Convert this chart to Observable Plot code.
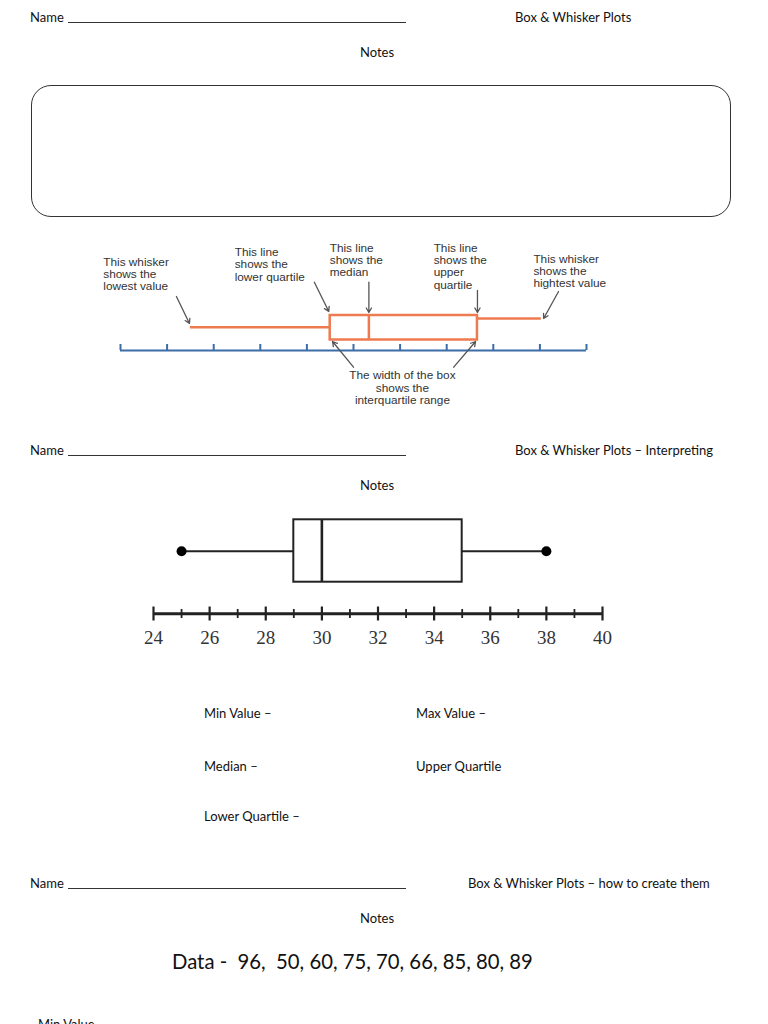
<!DOCTYPE html>
<html><head><meta charset="utf-8">
<script src="https://cdn.jsdelivr.net/npm/d3@7"></script>
<script src="https://cdn.jsdelivr.net/npm/@observablehq/plot@0.6"></script>
<style>
html,body{margin:0;padding:0;background:#fff;}
#page{position:relative;width:768px;height:1024px;overflow:hidden;font-family:Lato,"Open Sans",sans-serif;font-size:13px;color:#111;}
.t{position:absolute;white-space:pre;line-height:16px;}
.u{display:inline-block;width:338px;border-bottom:1px solid #333;height:13px;margin-left:4px;vertical-align:top;}
#notesbox{position:absolute;left:31px;top:85px;width:698px;height:130px;border:1px solid #333;border-radius:20px;}
#diagram{position:absolute;left:95px;top:236px;}
#chart{position:absolute;left:130px;top:500px;}
.data{font-size:20.3px;line-height:28px;}
</style></head><body><div id="page">
<div class="t" style="left:30px;top:9px">Name<span class="u"></span></div>
<div class="t" style="left:515px;top:9px">Box &amp; Whisker Plots</div>
<div class="t" style="left:360px;top:44px">Notes</div>
<div id="notesbox"></div>
<div id="diagram"></div>
<div class="t" style="left:30px;top:442px">Name<span class="u"></span></div>
<div class="t" style="left:515px;top:442px">Box &amp; Whisker Plots – Interpreting</div>
<div class="t" style="left:360px;top:477px">Notes</div>
<div id="chart"></div>
<div class="t" style="left:204px;top:705px">Min Value –</div>
<div class="t" style="left:416px;top:705px">Max Value –</div>
<div class="t" style="left:204px;top:758px">Median –</div>
<div class="t" style="left:416px;top:758px">Upper Quartile</div>
<div class="t" style="left:204px;top:808px">Lower Quartile –</div>
<div class="t" style="left:30px;top:875px">Name<span class="u"></span></div>
<div class="t" style="left:468px;top:875px">Box &amp; Whisker Plots – how to create them</div>
<div class="t" style="left:360px;top:910px">Notes</div>
<div class="t data" style="left:172px;top:947px">Data -  96,  50, 60, 75, 70, 66, 85, 80, 89</div>
<div class="t" style="left:38px;top:1016px">Min Value</div>
</div>
<script>
// ---- Data: explanatory diagram (unlabelled number line, 11 ticks) ----
const diagramTicks = [0, 1, 2, 3, 4, 5, 6, 7, 8, 9, 10];
const diagramMin = 1.5, diagramQ1 = 4.5, diagramMedian = 5.33, diagramQ3 = 7.66, diagramMax = 9.03;
const diagramNotes = [
  "This whisker\nshows the\nlowest value",
  "This line\nshows the\nlower quartile",
  "This line\nshows the\nmedian",
  "This line\nshows the\nupper\nquartile",
  "This whisker\nshows the\nhightest value",
  "The width of the box\nshows the\ninterquartile range"
];

// ---- Data: interpreting box plot ----
const majorTicks = [24, 26, 28, 30, 32, 34, 36, 38, 40];
const minorTicks = [25, 27, 29, 31, 33, 35, 37, 39];
const tickLabels = ["24", "26", "28", "30", "32", "34", "36", "38", "40"];
const boxStats = [{min: 25, q1: 29, median: 30, q3: 35, max: 38}];

// ---------- Diagram ----------
{
  const orange = "#ee7b4f", blue = "#3d6da6", grey = "#555", txt = "#333";
  const W = 535, H = 174;
  // layout for annotations (x in axis units, y in local pixel units)
  const noteLayout = [
    {x: -0.37, y: 37.4, anchor: "start"},
    {x: 2.45, y: 28, anchor: "start"},
    {x: 4.49, y: 23.4, anchor: "start"},
    {x: 6.72, y: 29.9, anchor: "start"},
    {x: 8.86, y: 34.7, anchor: "start"},
    {x: 6.05, y: 151.3, anchor: "middle"}
  ];
  const notes = diagramNotes.map((t, i) => ({text: t, ...noteLayout[i]}));
  const arrows = [
    {x1: 1.2, y1: 60, x2: 1.48, y2: 87},
    {x1: 4.16, y1: 45.7, x2: 4.47, y2: 75},
    {x1: diagramMedian, y1: 45.7, x2: diagramMedian, y2: 76},
    {x1: diagramQ3, y1: 54, x2: diagramQ3, y2: 76},
    {x1: 9.4, y1: 55, x2: 9.08, y2: 82},
    {x1: 5.0, y1: 130.7, x2: 4.55, y2: 105},
    {x1: 7.15, y1: 130.7, x2: 7.62, y2: 105}
  ];
  const textStyle = {x: "x", y: "y", text: "text", lineAnchor: "middle",
    fontFamily: "Liberation Sans, Arial, sans-serif", fontSize: 11.8, lineHeight: 1.04, fill: txt};
  const plot = Plot.plot({
    width: W, height: H,
    marginLeft: 25, marginRight: 44, marginTop: 0, marginBottom: 0,
    x: {domain: [0, 10], axis: null},
    y: {domain: [0, H], range: [0, H], axis: null},
    style: {background: "transparent", overflow: "visible"},
    marks: [
      Plot.ruleY([0], {y: 114, x1: 0, x2: 10, stroke: blue, strokeWidth: 2}),
      Plot.ruleX(diagramTicks, {x: d => d, y1: 108, y2: 114, stroke: blue, strokeWidth: 2}),
      Plot.ruleY([0], {y: 90.7, x1: diagramMin, x2: diagramQ1, stroke: orange, strokeWidth: 2.5}),
      Plot.ruleY([0], {y: 82, x1: diagramQ3, x2: diagramMax, stroke: orange, strokeWidth: 2.5}),
      Plot.rect([0], {x1: diagramQ1, x2: diagramQ3, y1: 79, y2: 103.5, stroke: orange, fill: "none", strokeWidth: 2.5}),
      Plot.ruleX([diagramMedian], {x: d => d, y1: 79, y2: 103.5, stroke: orange, strokeWidth: 2.5}),
      Plot.arrow(arrows, {x1: "x1", y1: "y1", x2: "x2", y2: "y2", stroke: grey, strokeWidth: 1.3, headLength: 6}),
      Plot.text(notes.filter(d => d.anchor === "start"), {...textStyle, textAnchor: "start"}),
      Plot.text(notes.filter(d => d.anchor === "middle"), {...textStyle, textAnchor: "middle"})
    ]
  });
  document.getElementById("diagram").append(plot);
}

// ---------- Interpreting box plot ----------
{
  const ink = "#222";
  const W = 500, H = 160;
  const boxTop = 19.3, boxBottom = 81.7, whiskerY = 50.7, axisY = 113.3;
  const plot = Plot.plot({
    width: W, height: H,
    marginLeft: 23, marginRight: 28, marginTop: 0, marginBottom: 0,
    x: {domain: [24, 40], axis: null},
    y: {domain: [0, H], range: [0, H], axis: null},
    style: {background: "transparent", overflow: "visible"},
    marks: [
      Plot.ruleY([0], {y: axisY, x1: 24, x2: 40, stroke: ink, strokeWidth: 3}),
      Plot.ruleX(majorTicks, {x: d => d, y1: 106.5, y2: 120.5, stroke: ink, strokeWidth: 2.2}),
      Plot.ruleX(minorTicks, {x: d => d, y1: 109, y2: 118, stroke: ink, strokeWidth: 1.8}),
      Plot.text(tickLabels, {x: (d, i) => majorTicks[i], y: 137.5, text: d => d,
        fontFamily: "Liberation Serif, DejaVu Serif, serif", fontSize: 19, fill: "#333"}),
      Plot.ruleY(boxStats, {y: whiskerY, x1: "min", x2: "q1", stroke: ink, strokeWidth: 2}),
      Plot.ruleY(boxStats, {y: whiskerY, x1: "q3", x2: "max", stroke: ink, strokeWidth: 2}),
      Plot.rect(boxStats, {x1: "q1", x2: "q3", y1: boxTop, y2: boxBottom, stroke: ink, fill: "none", strokeWidth: 2}),
      Plot.ruleX(boxStats, {x: "median", y1: boxTop, y2: boxBottom, stroke: ink, strokeWidth: 2.6}),
      Plot.dot(boxStats.flatMap(d => [d.min, d.max]), {x: d => d, y: whiskerY, r: 5, fill: "#000", stroke: "none"})
    ]
  });
  document.getElementById("chart").append(plot);
}
</script>
</body></html>
